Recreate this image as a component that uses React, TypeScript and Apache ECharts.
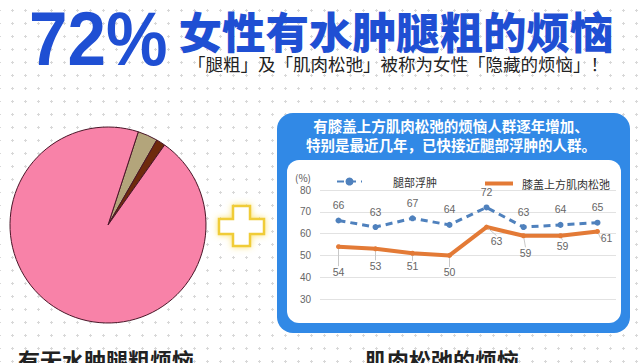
import React, { useEffect, useRef } from "react";
import * as echarts from "echarts";

const pieNames = ["不清楚", "无", "有水肿腿粗烦恼"];
const pieValues = [3.3, 1.5, 95.2];

const years = ["1", "2", "3", "4", "5", "6", "7", "8"];
const swellingValues = [66, 63, 67, 64, 72, 63, 64, 65];
const saggingValues = [54, 53, 51, 50, 63, 59, 59, 61];
const yTicks = { min: 30, max: 80, interval: 10 };

const seriesNames = ["腿部浮肿", "膝盖上方肌肉松弛"];

// label offsets (style only)
const saggingLabelShift: [number, number][] = [
  [0, 12], [0, 4], [0, 0], [0, 4], [10, 1], [2, 4], [2, -3], [9, -6],
];

const FONT_CJK = "'Noto Sans CJK SC', 'Noto Sans', sans-serif";

export default function App() {
  const ref = useRef<HTMLDivElement>(null);
  useEffect(() => {
    document.body.style.margin = "0";
    const chart = echarts.init(ref.current!, undefined, { renderer: "svg" });
    const blue = "#4f81bd";
    const orange = "#e37a36";
    const option: any = {
      animation: false,
      backgroundColor: "transparent",
      graphic: [
        {
          type: "rect",
          z: -10,
          shape: { x: 277, y: 113, width: 353, height: 220, r: 16 },
          style: { fill: "#3189e6" },
        },
        {
          type: "rect",
          z: -9,
          shape: { x: 287, y: 160, width: 334, height: 163, r: 12 },
          style: { fill: "#ffffff" },
        },
        {
          type: "text",
          z: 5,
          x: 451,
          y: 125,
          style: {
            text: "有膝盖上方肌肉松弛的烦恼人群逐年增加、",
            fill: "#ffffff",
            font: `bold 14.5px ${FONT_CJK}`,
            align: "center",
            verticalAlign: "middle",
          },
        },
        {
          type: "text",
          z: 5,
          x: 451,
          y: 144,
          style: {
            text: "特别是最近几年，已快接近腿部浮肿的人群。",
            fill: "#ffffff",
            font: `bold 14.5px ${FONT_CJK}`,
            align: "center",
            verticalAlign: "middle",
          },
        },
        {
          type: "text",
          z: 5,
          x: 303,
          y: 177,
          style: {
            text: "(%)",
            fill: "#555",
            font: `10px ${FONT_CJK}`,
            align: "center",
            verticalAlign: "middle",
          },
        },
        {
          type: "text",
          z: 5,
          x: 29,
          y: 38,
          scaleX: 0.91,
          style: {
            text: "72%",
            fill: "#1f4fd3",
            font: "bold 76px 'Liberation Sans', Arial, sans-serif",
            align: "left",
            verticalAlign: "middle",
          },
        },
        {
          type: "text",
          z: 5,
          x: 396,
          y: 30,
          style: {
            text: "女性有水肿腿粗的烦恼",
            fill: "#1f4fd3",
            font: `900 43.5px ${FONT_CJK}`,
            align: "center",
            verticalAlign: "middle",
          },
        },
        {
          type: "text",
          z: 5,
          x: 398,
          y: 63,
          style: {
            text: "「腿粗」及「肌肉松弛」被称为女性「隐藏的烦恼」！",
            fill: "#222",
            font: `17.5px ${FONT_CJK}`,
            align: "center",
            verticalAlign: "middle",
          },
        },
        {
          type: "text",
          z: 5,
          x: 106,
          y: 359,
          style: {
            text: "有无水肿腿粗烦恼",
            fill: "#222",
            font: `bold 22px ${FONT_CJK}`,
            align: "center",
            verticalAlign: "middle",
          },
        },
        {
          type: "text",
          z: 5,
          x: 442,
          y: 359,
          style: {
            text: "肌肉松弛的烦恼",
            fill: "#222",
            font: `bold 22px ${FONT_CJK}`,
            align: "center",
            verticalAlign: "middle",
          },
        },
        {
          type: "polygon",
          z: 5,
          shape: {
            points: [
              [233, 206], [250, 206], [250, 219], [264, 219], [264, 234], [250, 234],
              [250, 246], [233, 246], [233, 234], [219, 234], [219, 219], [233, 219],
            ],
          },
          style: {
            fill: "#ffffff",
            stroke: "#f0cc38",
            lineWidth: 2.5,
            shadowBlur: 6,
            shadowColor: "rgba(250,220,80,0.8)",
          },
        },
      ],
      legend: [
        {
          data: [seriesNames[0]],
          left: 331,
          top: 171,
          itemWidth: 25,
          itemHeight: 10,
          textStyle: {
            fontSize: 11,
            color: "#333",
            fontFamily: FONT_CJK,
            padding: [0, 0, 0, 26],
          },
        },
        {
          data: [seriesNames[1]],
          left: 480,
          top: 173,
          itemWidth: 28,
          itemHeight: 4,
          icon: "rect",
          textStyle: {
            fontSize: 11,
            color: "#333",
            fontFamily: FONT_CJK,
            padding: [0, 0, 0, 4],
          },
        },
      ],
      grid: { left: 320, right: 24, top: 190, bottom: 64, containLabel: false },
      xAxis: {
        type: "category",
        data: years,
        boundaryGap: true,
        axisLabel: { show: false },
        axisLine: { show: false },
        axisTick: { show: false },
      },
      yAxis: {
        type: "value",
        min: yTicks.min,
        max: yTicks.max,
        interval: yTicks.interval,
        axisLabel: { color: "#666", fontSize: 10, margin: 9 },
        axisLine: { show: false },
        axisTick: { show: false },
        splitLine: { lineStyle: { color: "#e2e2e2", width: 1 } },
      },
      series: [
        {
          type: "pie",
          center: [108, 225],
          radius: 98,
          startAngle: 72,
          label: { show: false },
          labelLine: { show: false },
          itemStyle: { borderColor: "#4a1628", borderWidth: 1 },
          data: pieNames.map((n, i) => ({
            name: n,
            value: pieValues[i],
            itemStyle: { color: ["#b3a57b", "#6e2a0c", "#f882a8"][i] },
          })),
        },
        {
          name: seriesNames[0],
          type: "line",
          data: swellingValues,
          symbol: "circle",
          symbolSize: 6,
          color: blue,
          lineStyle: { color: blue, width: 3, type: [7, 5] },
          itemStyle: { color: blue },
          label: {
            show: true,
            position: "top",
            distance: 7,
            color: "#666",
            fontSize: 10.5,
          },
          z: 3,
        },
        {
          name: seriesNames[1],
          type: "line",
          data: saggingValues,
          symbol: "circle",
          symbolSize: 5,
          color: orange,
          lineStyle: { color: orange, width: 4 },
          itemStyle: { color: orange },
          label: {
            show: true,
            position: "bottom",
            distance: 5,
            color: "#666",
            fontSize: 10.5,
          },
          labelLine: { show: true, lineStyle: { color: "#c8c8c8", width: 1 } },
          labelLayout: (p: any) => ({
            dx: saggingLabelShift[p.dataIndex][0],
            dy: saggingLabelShift[p.dataIndex][1],
          }),
          z: 3,
        },
      ],
    };
    chart.setOption(option);
    return () => chart.dispose();
  }, []);
  return (
    <div
      ref={ref}
      style={{
        width: 640,
        height: 363,
        backgroundColor: "#ffffff",
        backgroundImage: "radial-gradient(#d8d8d8 1px, transparent 1.4px)",
        backgroundSize: "13px 13px",
        backgroundPosition: "6px 4px",
      }}
    />
  );
}
